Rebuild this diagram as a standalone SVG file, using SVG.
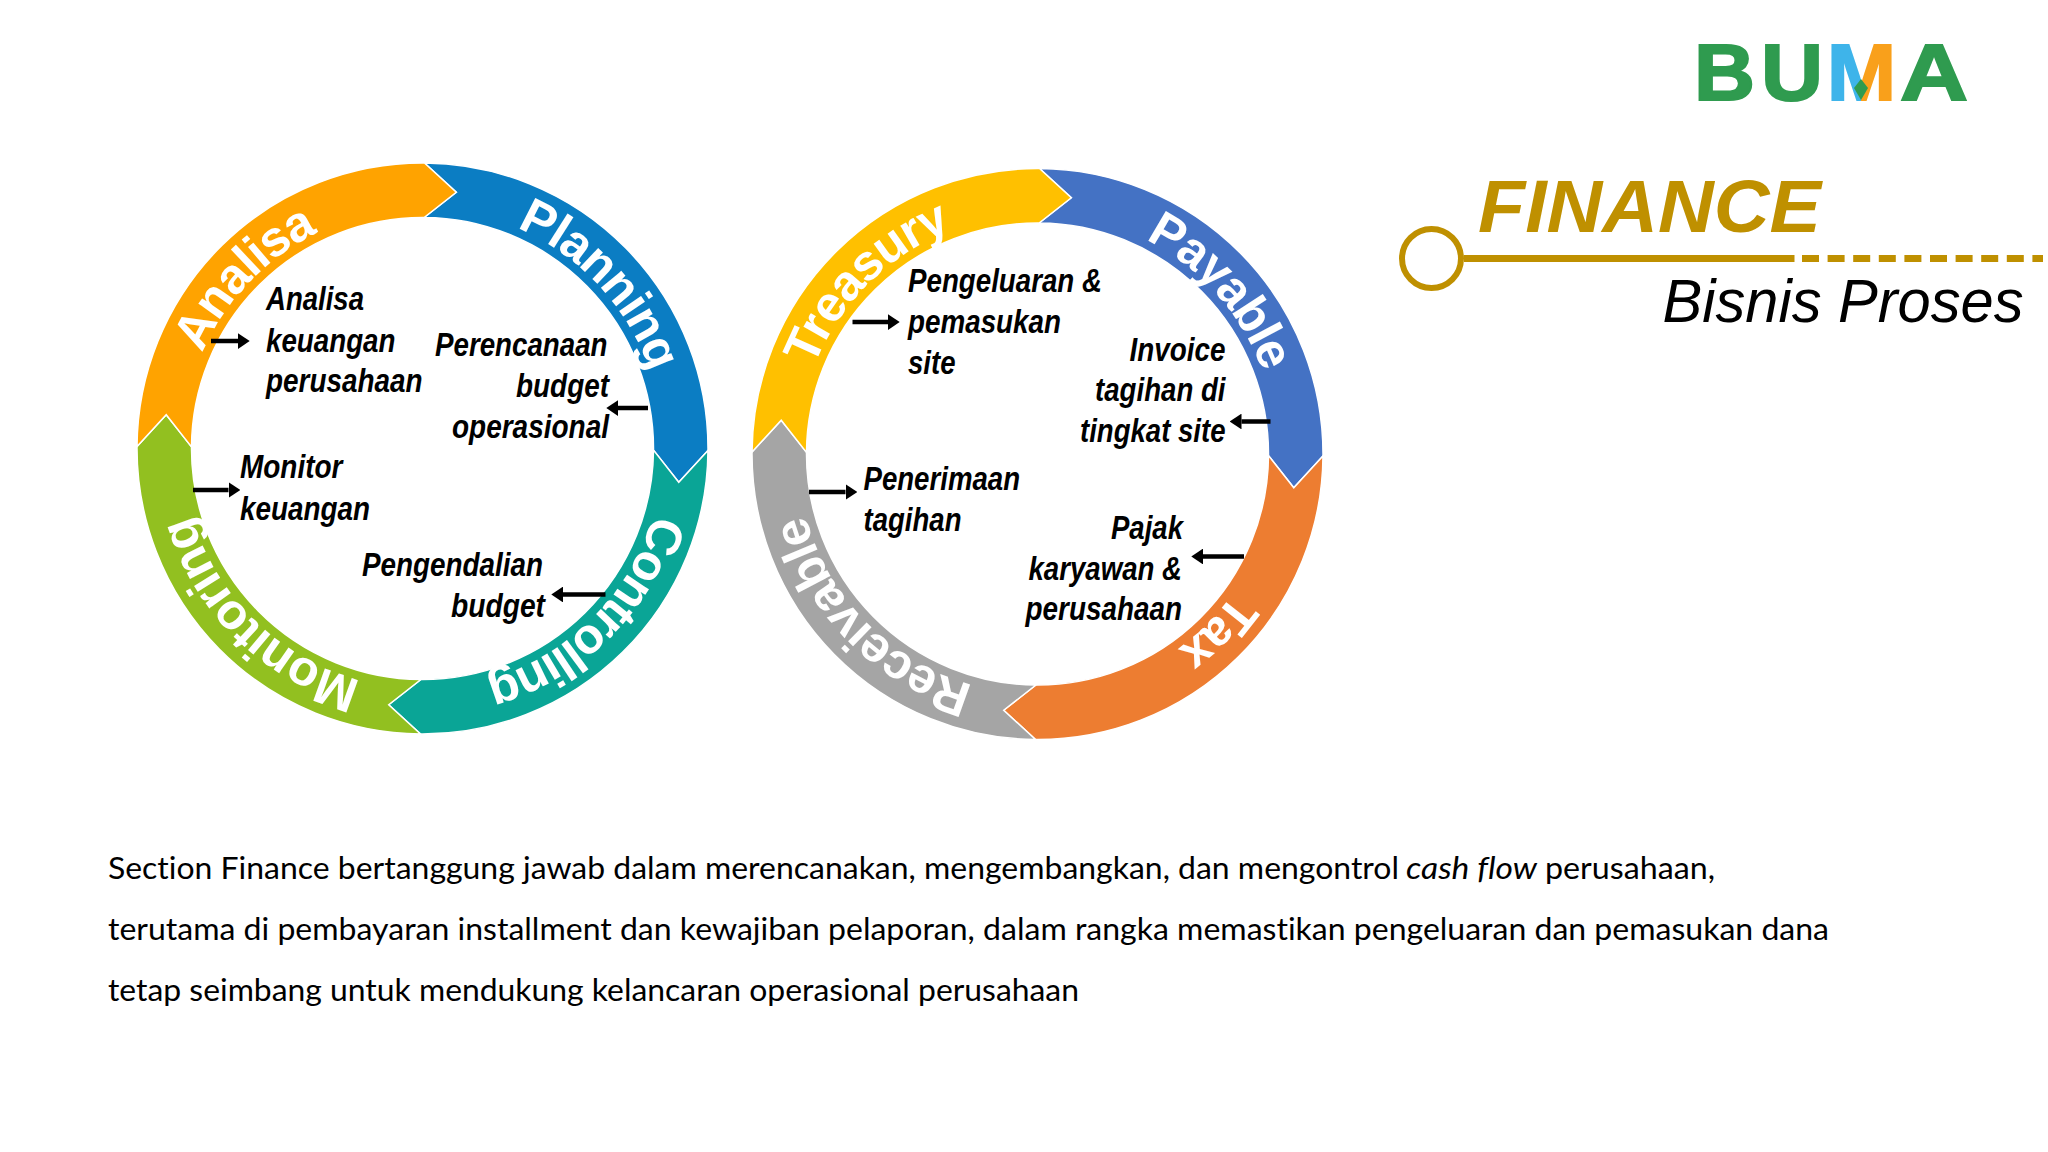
<svg xmlns="http://www.w3.org/2000/svg" width="2048" height="1152" viewBox="0 0 2048 1152">
<style>
.lbl{font:bold 50px "Liberation Sans",Arial,sans-serif;fill:#fff;letter-spacing:-1.2px}
.it{font:italic bold 33px "Liberation Sans",Arial,sans-serif;fill:#000}
.bd{font:31px Lato,"Liberation Sans",sans-serif;fill:#000;font-variant-ligatures:none}
.bi{font:italic 31px Lato,"Liberation Sans",sans-serif;fill:#000;font-variant-ligatures:none}
.logo{font:bold 79px "Liberation Sans",Arial,sans-serif;fill:#2F9B4F;stroke:#2F9B4F;stroke-width:2}
.ar{stroke:#000;stroke-width:4.5;fill:none;marker-end:url(#ah)}
</style>
<defs>
<path id="seg" stroke="#fff" stroke-width="1.5" d="M0,-285.5 A285.5,285.5 0 0 1 285.5,0 L256.5,32 L231,0 A231,231 0 0 0 0,-231 L32,-256.5 Z"/>
<path id="base" d="M0,-240 A240,240 0 1 1 0,240 A240,240 0 1 1 0,-240"/>
<marker id="ah" markerUnits="strokeWidth" markerWidth="2.6" markerHeight="3.5" refX="0" refY="1.75" viewBox="0 0 2.6 3.5" orient="auto"><path d="M0,0 L2.6,1.75 L0,3.5 Z" fill="#000"/></marker>
<linearGradient id="mg" gradientUnits="userSpaceOnUse" x1="1860" y1="0" x2="1862" y2="0"><stop offset="0.5" stop-color="#3EB4EA"/><stop offset="0.5" stop-color="#F9A01B"/></linearGradient>
</defs>
<rect width="2048" height="1152" fill="#fff"/>

<g id="planning">
<g transform="translate(422.5 448.5) rotate(0.4)"><use href="#seg" fill="#0B7DC3"/><text class="lbl"><textPath href="#base" startOffset="6.3%">Planning</textPath></text></g>
<text class="it" x="435" y="356" textLength="172.5" lengthAdjust="spacingAndGlyphs">Perencanaan</text>
<text class="it" x="516" y="397" textLength="93" lengthAdjust="spacingAndGlyphs">budget</text>
<text class="it" x="452" y="438" textLength="157" lengthAdjust="spacingAndGlyphs">operasional</text>
</g>
<g id="controlling">
<g transform="translate(422.5 448.5) rotate(90.4)"><use href="#seg" fill="#0AA596"/></g>
<g transform="translate(422.5 448.5) rotate(0.4)"><text class="lbl" style="letter-spacing:-2px"><textPath href="#base" startOffset="29.3%">Controlling</textPath></text></g>
<text class="it" x="362" y="576" textLength="181" lengthAdjust="spacingAndGlyphs">Pengendalian</text>
<text class="it" x="451" y="616.5" textLength="94" lengthAdjust="spacingAndGlyphs">budget</text>
</g>
<g id="monitoring">
<g transform="translate(422.5 448.5) rotate(180.4)"><use href="#seg" fill="#92C020"/></g>
<g transform="translate(422.5 448.5) rotate(0.4)"><text class="lbl"><textPath href="#base" startOffset="54%">Monitoring</textPath></text></g>
<text class="it" x="240" y="478" textLength="102.5" lengthAdjust="spacingAndGlyphs">Monitor</text>
<text class="it" x="240" y="519.5" textLength="130" lengthAdjust="spacingAndGlyphs">keuangan</text>
</g>
<g id="analisa">
<g transform="translate(422.5 448.5) rotate(270.4)"><use href="#seg" fill="#FFA300"/></g>
<g transform="translate(422.5 448.5) rotate(0.4)"><text class="lbl"><textPath href="#base" startOffset="81.4%">Analisa</textPath></text></g>
<text class="it" x="266" y="310" textLength="98" lengthAdjust="spacingAndGlyphs">Analisa</text>
<text class="it" x="266" y="351.5" textLength="129.5" lengthAdjust="spacingAndGlyphs">keuangan</text>
<text class="it" x="266" y="392" textLength="156.5" lengthAdjust="spacingAndGlyphs">perusahaan</text>
</g>

<g id="payable">
<g transform="translate(1037.5 454) rotate(0.4)"><use href="#seg" fill="#4472C4"/><text class="lbl"><textPath href="#base" startOffset="7.3%">Payable</textPath></text></g>
<text class="it" x="1129.5" y="360.5" textLength="96" lengthAdjust="spacingAndGlyphs">Invoice</text>
<text class="it" x="1095" y="401" textLength="130.5" lengthAdjust="spacingAndGlyphs">tagihan di</text>
<text class="it" x="1080" y="442" textLength="145.5" lengthAdjust="spacingAndGlyphs">tingkat site</text>
</g>
<g id="tax">
<g transform="translate(1037.5 454) rotate(90.4)"><use href="#seg" fill="#ED7D31"/></g>
<g transform="translate(1037.5 454) rotate(0.4)"><text class="lbl"><textPath href="#base" startOffset="34.7%">Tax</textPath></text></g>
<text class="it" x="1111" y="539" textLength="72" lengthAdjust="spacingAndGlyphs">Pajak</text>
<text class="it" x="1028.5" y="579.5" textLength="153.5" lengthAdjust="spacingAndGlyphs">karyawan &amp;</text>
<text class="it" x="1025.5" y="620" textLength="156.5" lengthAdjust="spacingAndGlyphs">perusahaan</text>
</g>
<g id="receivable">
<g transform="translate(1037.5 454) rotate(180.4)"><use href="#seg" fill="#A5A5A5"/></g>
<g transform="translate(1037.5 454) rotate(0.4)"><text class="lbl"><textPath href="#base" startOffset="54.2%">Receivable</textPath></text></g>
<text class="it" x="863.5" y="490" textLength="156.5" lengthAdjust="spacingAndGlyphs">Penerimaan</text>
<text class="it" x="863.5" y="530.5" textLength="98" lengthAdjust="spacingAndGlyphs">tagihan</text>
</g>
<g id="treasury">
<g transform="translate(1037.5 454) rotate(270.4)"><use href="#seg" fill="#FFC000"/></g>
<g transform="translate(1037.5 454) rotate(0.4)"><text class="lbl"><textPath href="#base" startOffset="80.8%">Treasury</textPath></text></g>
<text class="it" x="908" y="292" textLength="194" lengthAdjust="spacingAndGlyphs">Pengeluaran &amp;</text>
<text class="it" x="908" y="333" textLength="153" lengthAdjust="spacingAndGlyphs">pemasukan</text>
<text class="it" x="908" y="373.5" textLength="47.5" lengthAdjust="spacingAndGlyphs">site</text>
</g>

<g id="connectors">
<path class="ar" d="M211,341 H238"/>
<path class="ar" d="M648,408 H618"/>
<path class="ar" d="M193,490 H228.5"/>
<path class="ar" d="M605.5,594.5 H563"/>
<path class="ar" d="M852.5,322 H888"/>
<path class="ar" d="M1270.5,421.5 H1241.5"/>
<path class="ar" d="M809,492 H845.5"/>
<path class="ar" d="M1244,556.5 H1203"/>
</g>

<g id="logo">
<text class="logo" x="1694" y="100" textLength="61" lengthAdjust="spacingAndGlyphs">B</text>
<text class="logo" x="1761" y="100" textLength="62" lengthAdjust="spacingAndGlyphs">U</text>
<text class="logo" x="1827" y="100" textLength="69" lengthAdjust="spacingAndGlyphs" style="fill:url(#mg);stroke:url(#mg)">M</text>
<text class="logo" x="1900" y="100" textLength="68" lengthAdjust="spacingAndGlyphs">A</text>
<path d="M1854,88 L1861,79 L1868,88 L1861,100 Z" fill="#2F9B4F"/>
</g>

<g id="title">
<text x="1478" y="231.5" textLength="343" lengthAdjust="spacingAndGlyphs" style="font:italic bold 75px 'Liberation Sans',Arial,sans-serif;fill:#BF9000">FINANCE</text>
<circle cx="1431.5" cy="258.5" r="29.5" fill="#fff" stroke="#BF9000" stroke-width="6"/>
<path d="M1464,258.5 H1794.5" stroke="#BF9000" stroke-width="7" fill="none"/>
<path d="M1802,258.5 H2043" stroke="#BF9000" stroke-width="7" fill="none" stroke-dasharray="17 8.6"/>
<text x="1662.5" y="322" textLength="361" lengthAdjust="spacingAndGlyphs" style="font:italic 61px 'Liberation Sans',Arial,sans-serif;fill:#000">Bisnis Proses</text>
</g>

<g id="body">
<text class="bd" x="108" y="879" textLength="1291" lengthAdjust="spacingAndGlyphs">Section Finance bertanggung jawab dalam merencanakan, mengembangkan, dan mengontrol</text>
<text class="bi" x="1406" y="879" textLength="131" lengthAdjust="spacingAndGlyphs">cash flow</text>
<text class="bd" x="1545" y="879" textLength="170" lengthAdjust="spacingAndGlyphs">perusahaan,</text>
<text class="bd" x="108" y="940" textLength="1721" lengthAdjust="spacingAndGlyphs">terutama di pembayaran installment dan kewajiban pelaporan, dalam rangka memastikan pengeluaran dan pemasukan dana</text>
<text class="bd" x="108" y="1001" textLength="971" lengthAdjust="spacingAndGlyphs">tetap seimbang untuk mendukung kelancaran operasional perusahaan</text>
</g>
</svg>
